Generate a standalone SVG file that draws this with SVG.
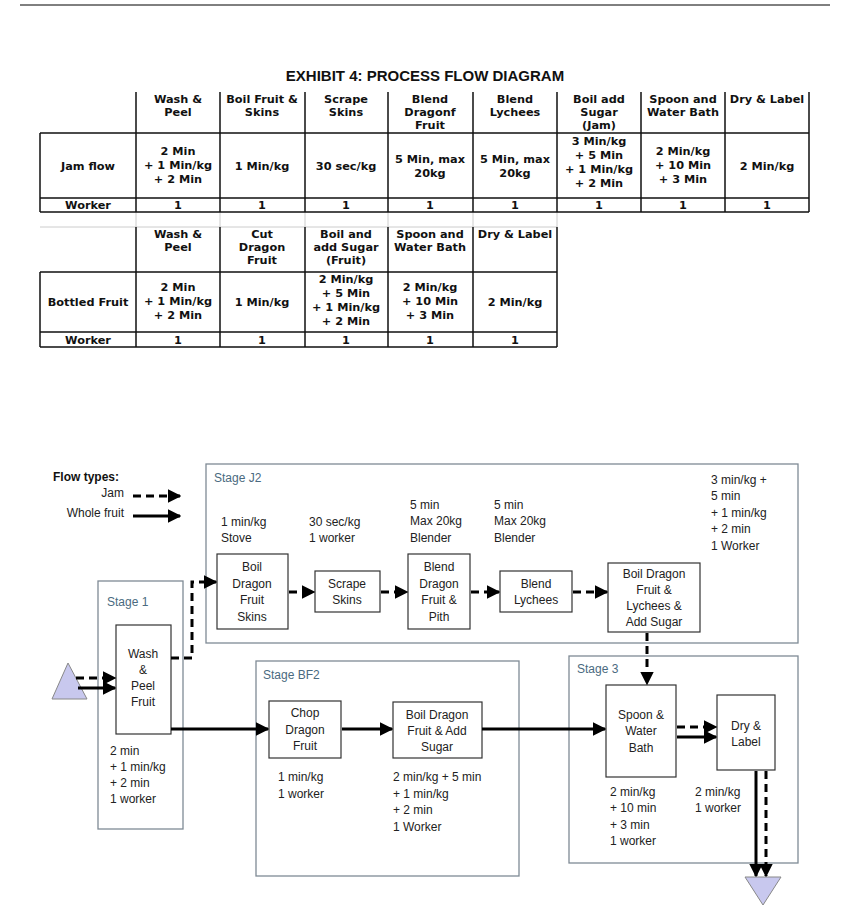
<svg xmlns="http://www.w3.org/2000/svg" width="849" height="908" viewBox="0 0 849 908">
<style>
.t{font-family:"DejaVu Sans",Verdana,sans-serif;font-weight:bold;font-size:11.3px;fill:#111;text-anchor:middle}
.g{stroke:#111;stroke-width:1.5;fill:none}
.lg{stroke:#ccc;stroke-width:1;fill:none}
.d{font-family:"Liberation Sans",Arial,sans-serif;font-size:12px;fill:#222}
.c{text-anchor:middle}
.stage{fill:#fff;stroke:#7f8a95;stroke-width:1.3}
.sl{font-family:"Liberation Sans",Arial,sans-serif;font-size:12px;fill:#4a6a80}
.box{fill:#fff;stroke:#333;stroke-width:1.2}
.sol{stroke:#000;stroke-width:3;fill:none}
.dash{stroke:#000;stroke-width:3;fill:none;stroke-dasharray:8,5}
.tri{fill:#c8c8ee;stroke:#888;stroke-width:1}
</style>
<defs>
<marker id="ah" viewBox="0 0 10 10" refX="9" refY="5" markerWidth="4.5" markerHeight="4.5" orient="auto"><path d="M0,0 L10,5 L0,10 z" fill="#000"/></marker>
</defs>
<rect width="849" height="908" fill="#fff"/>
<line x1="20" y1="5" x2="830" y2="5" stroke="#000" stroke-width="1"/>
<text x="425" y="81" font-family="Liberation Sans,Arial,sans-serif" font-weight="bold" font-size="15" text-anchor="middle" fill="#111">EXHIBIT 4: PROCESS FLOW DIAGRAM</text>

<g id="table1">
<path class="lg" d="M40 227H557M136 212V227M220 212V227M305 212V227M388 212V227M473 212V227M557 212V227"/>
<path class="g" d="M136 92V212M220 92V212M305 92V212M388 92V212M473 92V212M557 92V212M641 92V212M725 92V212M809 92V212M40 133V212M40 133H809M40 198H809M40 212H809"/>
<text class="t"><tspan x="178" y="103">Wash &amp;</tspan><tspan x="178" y="116">Peel</tspan></text>
<text class="t"><tspan x="262" y="103">Boil Fruit &amp;</tspan><tspan x="262" y="116">Skins</tspan></text>
<text class="t"><tspan x="346" y="103">Scrape</tspan><tspan x="346" y="116">Skins</tspan></text>
<text class="t"><tspan x="430" y="103">Blend</tspan><tspan x="430" y="116">Dragonf</tspan><tspan x="430" y="129">Fruit</tspan></text>
<text class="t"><tspan x="515" y="103">Blend</tspan><tspan x="515" y="116">Lychees</tspan></text>
<text class="t"><tspan x="599" y="103">Boil add</tspan><tspan x="599" y="116">Sugar</tspan><tspan x="599" y="129">(Jam)</tspan></text>
<text class="t"><tspan x="683" y="103">Spoon and</tspan><tspan x="683" y="116">Water Bath</tspan></text>
<text class="t"><tspan x="767" y="103">Dry &amp; Label</tspan></text>
<text class="t" x="88" y="170">Jam flow</text>
<text class="t"><tspan x="178" y="155">2 Min</tspan><tspan x="178" y="169">+ 1 Min/kg</tspan><tspan x="178" y="183">+ 2 Min</tspan></text>
<text class="t" x="262" y="170">1 Min/kg</text>
<text class="t" x="346" y="170">30 sec/kg</text>
<text class="t"><tspan x="430" y="163">5 Min, max</tspan><tspan x="430" y="177">20kg</tspan></text>
<text class="t"><tspan x="515" y="163">5 Min, max</tspan><tspan x="515" y="177">20kg</tspan></text>
<text class="t"><tspan x="599" y="145">3 Min/kg</tspan><tspan x="599" y="159">+ 5 Min</tspan><tspan x="599" y="173">+ 1 Min/kg</tspan><tspan x="599" y="187">+ 2 Min</tspan></text>
<text class="t"><tspan x="683" y="155">2 Min/kg</tspan><tspan x="683" y="169">+ 10 Min</tspan><tspan x="683" y="183">+ 3 Min</tspan></text>
<text class="t" x="767" y="170">2 Min/kg</text>
<text class="t" x="88" y="209">Worker</text>
<text class="t" x="178" y="209">1</text><text class="t" x="262" y="209">1</text><text class="t" x="346" y="209">1</text><text class="t" x="430" y="209">1</text><text class="t" x="515" y="209">1</text><text class="t" x="599" y="209">1</text><text class="t" x="683" y="209">1</text><text class="t" x="767" y="209">1</text>
</g>

<g id="table2">
<path class="g" d="M136 227V347M220 227V347M305 227V347M388 227V347M473 227V347M557 227V347M40 272V347M40 272H557M40 332H557M40 347H557"/>
<text class="t"><tspan x="178" y="238">Wash &amp;</tspan><tspan x="178" y="251">Peel</tspan></text>
<text class="t"><tspan x="262" y="238">Cut</tspan><tspan x="262" y="251">Dragon</tspan><tspan x="262" y="264">Fruit</tspan></text>
<text class="t"><tspan x="346" y="238">Boil and</tspan><tspan x="346" y="251">add Sugar</tspan><tspan x="346" y="264">(Fruit)</tspan></text>
<text class="t"><tspan x="430" y="238">Spoon and</tspan><tspan x="430" y="251">Water Bath</tspan></text>
<text class="t"><tspan x="515" y="238">Dry &amp; Label</tspan></text>
<text class="t" x="88" y="306">Bottled Fruit</text>
<text class="t"><tspan x="178" y="291">2 Min</tspan><tspan x="178" y="305">+ 1 Min/kg</tspan><tspan x="178" y="319">+ 2 Min</tspan></text>
<text class="t" x="262" y="306">1 Min/kg</text>
<text class="t"><tspan x="346" y="283">2 Min/kg</tspan><tspan x="346" y="297">+ 5 Min</tspan><tspan x="346" y="311">+ 1 Min/kg</tspan><tspan x="346" y="325">+ 2 Min</tspan></text>
<text class="t"><tspan x="430" y="291">2 Min/kg</tspan><tspan x="430" y="305">+ 10 Min</tspan><tspan x="430" y="319">+ 3 Min</tspan></text>
<text class="t" x="515" y="306">2 Min/kg</text>
<text class="t" x="88" y="344">Worker</text>
<text class="t" x="178" y="344">1</text><text class="t" x="262" y="344">1</text><text class="t" x="346" y="344">1</text><text class="t" x="430" y="344">1</text><text class="t" x="515" y="344">1</text>
</g>

<g id="legend">
<text x="53" y="481" font-family="Liberation Sans,Arial,sans-serif" font-weight="bold" font-size="12" fill="#111">Flow types:</text>
<text class="d" x="124" y="497" text-anchor="end">Jam</text>
<text class="d" x="124" y="517" text-anchor="end">Whole fruit</text>
<line class="dash" x1="133" y1="496" x2="180" y2="496" marker-end="url(#ah)"/>
<line class="sol" x1="133" y1="516" x2="180" y2="516" marker-end="url(#ah)"/>
</g>

<g id="stages">
<rect class="stage" x="206" y="464" width="592" height="179"/>
<text class="sl" x="214" y="482">Stage  J2</text>
<rect class="stage" x="98" y="581" width="85" height="248"/>
<text class="sl" x="107" y="606">Stage  1</text>
<rect class="stage" x="256" y="661" width="263" height="215"/>
<text class="sl" x="263" y="679">Stage  BF2</text>
<rect class="stage" x="569" y="656" width="229" height="207"/>
<text class="sl" x="577" y="673">Stage  3</text>
</g>

<g id="source"><polygon class="tri" points="52,699 68,663 87,699"/></g>
<g id="sink"><polygon class="tri" points="745,877 781,877 763,905"/></g>

<g id="wash"><rect class="box" x="116" y="625" width="55" height="109"/>
<text class="d c"><tspan x="143" y="658">Wash</tspan><tspan x="143" y="674">&amp;</tspan><tspan x="143" y="690">Peel</tspan><tspan x="143" y="706">Fruit</tspan></text>
<text class="d"><tspan x="110" y="755">2 min</tspan><tspan x="110" y="771">+ 1 min/kg</tspan><tspan x="110" y="787">+ 2 min</tspan><tspan x="110" y="803">1 worker</tspan></text></g>

<g id="boilskins"><rect class="box" x="217" y="554" width="71" height="75"/>
<text class="d c"><tspan x="252" y="571">Boil</tspan><tspan x="252" y="588">Dragon</tspan><tspan x="252" y="604">Fruit</tspan><tspan x="252" y="621">Skins</tspan></text>
<text class="d"><tspan x="221" y="526">1 min/kg</tspan><tspan x="221" y="542">Stove</tspan></text></g>

<g id="scrape"><rect class="box" x="315" y="571" width="65" height="41"/>
<text class="d c"><tspan x="347" y="588">Scrape</tspan><tspan x="347" y="604">Skins</tspan></text>
<text class="d"><tspan x="309" y="526">30 sec/kg</tspan><tspan x="309" y="542">1 worker</tspan></text></g>

<g id="blenddragon"><rect class="box" x="408" y="554" width="62" height="75"/>
<text class="d c"><tspan x="439" y="571">Blend</tspan><tspan x="439" y="588">Dragon</tspan><tspan x="439" y="604">Fruit &amp;</tspan><tspan x="439" y="621">Pith</tspan></text>
<text class="d"><tspan x="410" y="509">5 min</tspan><tspan x="410" y="525">Max  20kg</tspan><tspan x="410" y="542">Blender</tspan></text></g>

<g id="blendlychees"><rect class="box" x="500" y="571" width="72" height="41"/>
<text class="d c"><tspan x="536" y="588">Blend</tspan><tspan x="536" y="604">Lychees</tspan></text>
<text class="d"><tspan x="494" y="509">5 min</tspan><tspan x="494" y="525">Max  20kg</tspan><tspan x="494" y="542">Blender</tspan></text></g>

<g id="boillychees"><rect class="box" x="608" y="563" width="92" height="69"/>
<text class="d c"><tspan x="654" y="578">Boil Dragon</tspan><tspan x="654" y="594">Fruit &amp;</tspan><tspan x="654" y="610">Lychees &amp;</tspan><tspan x="654" y="626">Add Sugar</tspan></text>
<text class="d"><tspan x="711" y="484">3 min/kg  +</tspan><tspan x="711" y="500">5 min</tspan><tspan x="711" y="517">+ 1 min/kg</tspan><tspan x="711" y="533">+ 2 min</tspan><tspan x="711" y="550">1 Worker</tspan></text></g>

<g id="chop"><rect class="box" x="269" y="701" width="72" height="57"/>
<text class="d c"><tspan x="305" y="717">Chop</tspan><tspan x="305" y="734">Dragon</tspan><tspan x="305" y="750">Fruit</tspan></text>
<text class="d"><tspan x="278" y="781">1 min/kg</tspan><tspan x="278" y="798">1 worker</tspan></text></g>

<g id="boilsugar"><rect class="box" x="393" y="702" width="89" height="56"/>
<text class="d c"><tspan x="437" y="719">Boil Dragon</tspan><tspan x="437" y="735">Fruit &amp; Add</tspan><tspan x="437" y="751">Sugar</tspan></text>
<text class="d"><tspan x="393" y="781">2 min/kg  +  5 min</tspan><tspan x="393" y="798">+  1 min/kg</tspan><tspan x="393" y="814">+ 2 min</tspan><tspan x="393" y="831">1 Worker</tspan></text></g>

<g id="spoon"><rect class="box" x="606" y="685" width="70" height="92"/>
<text class="d c"><tspan x="641" y="719">Spoon  &amp;</tspan><tspan x="641" y="735">Water</tspan><tspan x="641" y="752">Bath</tspan></text>
<text class="d"><tspan x="610" y="796">2 min/kg</tspan><tspan x="610" y="812">+ 10 min</tspan><tspan x="610" y="829">+ 3 min</tspan><tspan x="610" y="845">1 worker</tspan></text></g>

<g id="dry"><rect class="box" x="717" y="695" width="58" height="75"/>
<text class="d c"><tspan x="746" y="730">Dry &amp;</tspan><tspan x="746" y="746">Label</tspan></text>
<text class="d"><tspan x="695" y="796">2 min/kg</tspan><tspan x="695" y="812">1 worker</tspan></text></g>

<g id="connectors">
<line class="dash" x1="76" y1="678" x2="115" y2="678" marker-end="url(#ah)"/>
<line class="sol" x1="78" y1="688" x2="115" y2="688" marker-end="url(#ah)"/>
<path class="dash" d="M171 658H192V582H216" marker-end="url(#ah)"/>
<line class="sol" x1="171" y1="729" x2="268" y2="729" marker-end="url(#ah)"/>
<line class="dash" x1="289" y1="592" x2="314" y2="592" marker-end="url(#ah)"/>
<line class="dash" x1="381" y1="592" x2="407" y2="592" marker-end="url(#ah)"/>
<line class="dash" x1="471" y1="592" x2="499" y2="592" marker-end="url(#ah)"/>
<line class="dash" x1="573" y1="592" x2="607" y2="592" marker-end="url(#ah)"/>
<line class="dash" x1="647" y1="633" x2="647" y2="684" marker-end="url(#ah)"/>
<line class="sol" x1="342" y1="729" x2="392" y2="729" marker-end="url(#ah)"/>
<line class="sol" x1="482" y1="729" x2="605" y2="729" marker-end="url(#ah)"/>
<line class="dash" x1="677" y1="727" x2="716" y2="727" marker-end="url(#ah)"/>
<line class="sol" x1="677" y1="737" x2="716" y2="737" marker-end="url(#ah)"/>
<line class="sol" x1="756" y1="771" x2="756" y2="876" marker-end="url(#ah)"/>
<line class="dash" x1="766" y1="771" x2="766" y2="876" marker-end="url(#ah)"/>
</g>
</svg>
